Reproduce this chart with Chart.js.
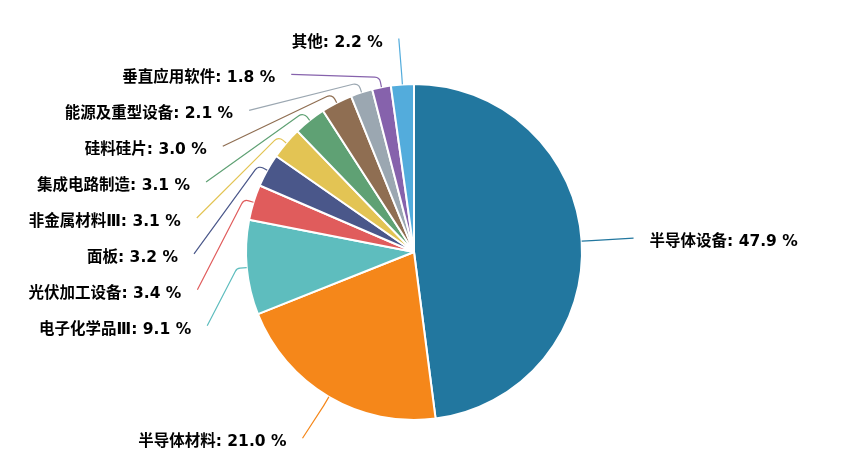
<!DOCTYPE html>
<html>
<head>
<meta charset="utf-8">
<script src="https://cdn.jsdelivr.net/npm/chart.js@4.4.1/dist/chart.umd.min.js"></script>
<style>
  html, body { margin: 0; padding: 0; background: #fff; }
  #wrap { width: 844px; height: 474px; }
</style>
</head>
<body>
<div id="wrap"><canvas id="pie"></canvas></div>
<script>
// Slices, clockwise from the top
const categories = ['半导体设备', '半导体材料', '电子化学品Ⅲ', '光伏加工设备', '面板', '非金属材料Ⅲ',
    '集成电路制造', '硅料硅片', '能源及重型设备', '垂直应用软件', '其他'];
const shares = [47.9, 21.0, 9.1, 3.4, 3.2, 3.1, 3.1, 3.0, 2.1, 1.8, 2.2];
const colors = ['#22779f', '#f5871a', '#5ebdbe', '#e05c5c', '#4a578a', '#e3c454',
    '#5fa174', '#8f6e52', '#9ba7b1', '#8662ac', '#53acdc'];

// Leader line / label layout settings
const ELBOW = 10;       // first segment length beyond the slice edge
const LABEL_R = 216;    // radius used for natural label height
const ELLIPSE_R = 220;  // horizontal radius where line ends sit
const ROW_GAP = 35.9;   // minimum vertical gap between labels on one side
const TOP_Y = 38.5;     // highest allowed label line end
const TEXT_GAP = 16;
const FONT = 'bold 15.5px "DejaVu Sans", "Noto Sans CJK SC", sans-serif';

const labelPlugin = {
    id: 'pieLabels',
    afterDraw(chart) {
        const ctx = chart.ctx;
        const arcs = chart.getDatasetMeta(0).data;
        const cx = arcs[0].x, cy = arcs[0].y;

        const items = arcs.map((arc, i) => {
            const a = (arc.startAngle + arc.endAngle) / 2;
            const cos = Math.cos(a), sin = Math.sin(a);
            const r = arc.outerRadius;
            return {
                i, cos, sin,
                side: cos >= 0 ? 1 : -1,
                p0: [cx + r * cos, cy + r * sin],
                p1: [cx + (r + ELBOW) * cos, cy + (r + ELBOW) * sin],
                natY: cy + LABEL_R * sin,
                natDx: Math.abs(ELLIPSE_R * cos)
            };
        });

        // spread labels on each side from top down
        [1, -1].forEach(side => {
            const list = items.filter(it => it.side === side).sort((a, b) => a.natY - b.natY);
            let prev = -Infinity;
            list.forEach(it => {
                it.y = Math.max(it.natY, TOP_Y, prev + ROW_GAP);
                prev = it.y;
            });
            // align the line ends on an ellipse, one per half
            [list.filter(it => it.y <= cy), list.filter(it => it.y > cy)].forEach(semi => {
                if (!semi.length) return;
                let far = semi[0];
                semi.forEach(it => { if (Math.abs(it.y - cy) > Math.abs(far.y - cy)) far = it; });
                const k = Math.min(far.natDx / ELLIPSE_R, 0.999);
                const rB = Math.abs(far.y - cy) / Math.sqrt(1 - k * k);
                semi.forEach(it => {
                    const dy = Math.abs(it.y - cy);
                    const dx = ELLIPSE_R * Math.sqrt(Math.max(0, 1 - (dy * dy) / (rB * rB)));
                    it.x = cx + side * dx;
                });
            });
        });

        ctx.save();
        items.forEach(it => {
            ctx.strokeStyle = colors[it.i];
            ctx.lineWidth = 1.2;
            ctx.beginPath();
            ctx.moveTo(it.p0[0], it.p0[1]);
            ctx.arcTo(it.p1[0], it.p1[1], it.x, it.y, 6);
            ctx.lineTo(it.x, it.y);
            ctx.stroke();

            ctx.font = FONT;
            ctx.fillStyle = '#000';
            ctx.textBaseline = 'middle';
            ctx.textAlign = it.side > 0 ? 'left' : 'right';
            const text = categories[it.i] + ': ' + shares[it.i].toFixed(1) + ' %';
            ctx.fillText(text, it.x + it.side * TEXT_GAP, it.y + 4);
        });
        ctx.restore();
    }
};

new Chart(document.getElementById('pie'), {
    type: 'pie',
    data: {
        labels: categories,
        datasets: [{
            data: shares,
            backgroundColor: colors,
            borderColor: '#fff',
            borderWidth: 2
        }]
    },
    options: {
        responsive: true,
        maintainAspectRatio: false,
        animation: false,
        layout: { padding: { top: 83, bottom: 53, left: 245, right: 261 } },
        plugins: {
            legend: { display: false },
            tooltip: { enabled: false }
        }
    },
    plugins: [labelPlugin]
});
</script>
</body>
</html>
